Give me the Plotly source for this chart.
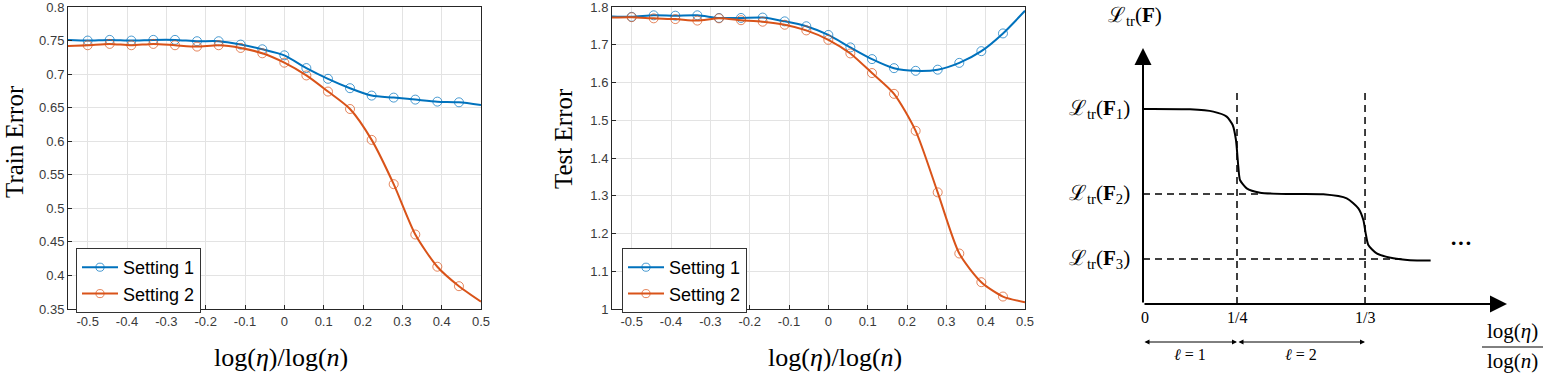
import plotly.graph_objects as go

# ---------------- data ----------------
x_vals = [-0.55, -0.5, -0.444, -0.389, -0.333, -0.278, -0.222, -0.167, -0.111, -0.056,
          0.0, 0.056, 0.111, 0.167, 0.222, 0.278, 0.333, 0.389, 0.444, 0.5]
has_marker = [False] + [True] * 18 + [False]

train_s1 = [0.751, 0.750, 0.751, 0.750, 0.751, 0.751, 0.749, 0.749, 0.744, 0.737,
            0.728, 0.709, 0.693, 0.679, 0.668, 0.665, 0.662, 0.659, 0.658, 0.654]
train_s2 = [0.742, 0.743, 0.745, 0.743, 0.745, 0.743, 0.741, 0.743, 0.739, 0.731,
            0.717, 0.698, 0.674, 0.648, 0.602, 0.536, 0.461, 0.413, 0.384, 0.361]
test_s1 = [1.775, 1.774, 1.778, 1.777, 1.778, 1.771, 1.771, 1.772, 1.762, 1.749,
           1.726, 1.693, 1.662, 1.638, 1.631, 1.634, 1.652, 1.683, 1.730, 1.790]
test_s2 = [1.772, 1.773, 1.770, 1.768, 1.764, 1.770, 1.765, 1.761, 1.753, 1.738,
           1.713, 1.677, 1.625, 1.570, 1.472, 1.309, 1.147, 1.071, 1.033, 1.018]

x_tick_vals = [-0.5, -0.4, -0.3, -0.2, -0.1, 0.0, 0.1, 0.2, 0.3, 0.4, 0.5]
x_tick_text = ["-0.5", "-0.4", "-0.3", "-0.2", "-0.1", "0", "0.1", "0.2", "0.3", "0.4", "0.5"]
train_tick_vals = [0.35, 0.4, 0.45, 0.5, 0.55, 0.6, 0.65, 0.7, 0.75, 0.8]
train_tick_text = ["0.35", "0.4", "0.45", "0.5", "0.55", "0.6", "0.65", "0.7", "0.75", "0.8"]
test_tick_vals = [1.0, 1.1, 1.2, 1.3, 1.4, 1.5, 1.6, 1.7, 1.8]
test_tick_text = ["1", "1.1", "1.2", "1.3", "1.4", "1.5", "1.6", "1.7", "1.8"]
series_names = ["Setting 1", "Setting 2"]

# schematic (right panel), in schematic units
diag_curve_x = [0.0, 0.50, 0.748, 0.890, 0.954, 0.989, 1.014, 1.032, 1.103, 1.245, 1.564,
                1.918, 2.167, 2.291, 2.344, 2.369, 2.397, 2.486, 2.663, 2.840, 3.060]
diag_curve_y = [3.90, 3.893, 3.847, 3.747, 3.58, 3.28, 2.747, 2.48, 2.313, 2.227, 2.20,
                2.193, 2.113, 1.913, 1.68, 1.413, 1.18, 1.013, 0.913, 0.875, 0.87]
diag_levels = [3.9, 2.2, 0.9]
diag_level_labels = ["ℒ<sub>tr</sub>(<b>F</b><sub>1</sub>)",
                     "ℒ<sub>tr</sub>(<b>F</b><sub>2</sub>)",
                     "ℒ<sub>tr</sub>(<b>F</b><sub>3</sub>)"]
diag_bounds = [0.0, 1.0, 2.362]
diag_bound_labels = ["0", "1/4", "1/3"]
diag_l_labels = ["<i>ℓ</i> = 1", "<i>ℓ</i> = 2"]

# ---------------- layout helpers ----------------
W, H = 1547, 377
BLUE = "#0072BD"
ORANGE = "#D95319"
SERIF = "Liberation Serif, DejaVu Serif, serif"
SANS = "Liberation Sans, Arial, Helvetica, sans-serif"


def px_x(p):
    return p / W


def px_y(p):
    return 1 - p / H


# diagram coordinate system: origin pixel and unit sizes
D_X0, D_Y0, D_UX, D_UY = 1143, 304, 94.0, 50.0


def dx(p):
    return (p - D_X0) / D_UX


def dy(p):
    return (D_Y0 - p) / D_UY


fig = go.Figure()

msizes = [9 if m else 0 for m in has_marker]


def add_series(xa, ya, yvals, color, name, legend):
    fig.add_trace(go.Scatter(
        x=x_vals, y=yvals, mode="lines+markers", name=name,
        xaxis=xa, yaxis=ya, legend=legend,
        line=dict(color=color, width=2, shape="spline", smoothing=0.7),
        marker=dict(symbol="circle-open", size=msizes, color=color,
                    line=dict(width=1, color=color)),
        hoverinfo="skip",
    ))


add_series("x", "y", train_s1, BLUE, series_names[0], "legend")
add_series("x", "y", train_s2, ORANGE, series_names[1], "legend")
add_series("x2", "y2", test_s1, BLUE, series_names[0], "legend2")
add_series("x2", "y2", test_s2, ORANGE, series_names[1], "legend2")

# schematic curve
fig.add_trace(go.Scatter(x=diag_curve_x, y=diag_curve_y, mode="lines", xaxis="x3", yaxis="y3",
                         line=dict(color="black", width=2, shape="spline", smoothing=0.6),
                         showlegend=False, hoverinfo="skip"))

axis_common = dict(showline=True, mirror=True, linecolor="#262626", linewidth=1,
                   ticks="inside", ticklen=4, tickcolor="#262626",
                   showgrid=True, gridcolor="#e3e3e3", gridwidth=1, zeroline=False,
                   automargin=False, ticklabeloverflow="allow",
                   tickfont=dict(family=SANS, size=13, color="#3a3a3a"))

plot_top, plot_bot = 7, 309
eps = 1e-6
layout = dict(
    width=W, height=H, margin=dict(l=0, r=0, t=0, b=0, autoexpand=False),
    paper_bgcolor="white", plot_bgcolor="white",
    xaxis=dict(domain=[px_x(68), px_x(481)], range=[-0.55, 0.5 + eps], anchor="y",
               tickvals=x_tick_vals, ticktext=x_tick_text, **axis_common),
    yaxis=dict(domain=[px_y(plot_bot), px_y(plot_top)], range=[0.35 - eps, 0.8 + eps], anchor="x",
               tickvals=train_tick_vals, ticktext=train_tick_text, **axis_common),
    xaxis2=dict(domain=[px_x(612), px_x(1025)], range=[-0.55, 0.5 + eps], anchor="y2",
                tickvals=x_tick_vals, ticktext=x_tick_text, **axis_common),
    yaxis2=dict(domain=[px_y(plot_bot), px_y(plot_top)], range=[1.0 - eps, 1.8 + eps], anchor="x2",
                tickvals=test_tick_vals, ticktext=test_tick_text, **axis_common),
    xaxis3=dict(domain=[px_x(1040), 1.0], range=[dx(1040), dx(W)], anchor="y3", visible=False,
                automargin=False),
    yaxis3=dict(domain=[0, 1], range=[dy(H), dy(0)], anchor="x3", visible=False,
                automargin=False),
)

legend_common = dict(bgcolor="white", bordercolor="#333333", borderwidth=1,
                     font=dict(family=SANS, size=18, color="black"),
                     itemwidth=36, tracegroupgap=0, xanchor="left", yanchor="top",
                     itemsizing="trace")
layout["legend"] = dict(x=px_x(76), y=px_y(248), **legend_common)
layout["legend2"] = dict(x=px_x(622), y=px_y(248), **legend_common)
fig.update_layout(**layout)

ann = []


def text_ann(text, x, y, xref, yref, size, xanchor="center", yanchor="middle", **kw):
    return dict(text=text, x=x, y=y, xref=xref, yref=yref, showarrow=False,
                xanchor=xanchor, yanchor=yanchor,
                font=dict(family=SERIF, size=size, color="black"), **kw)


# axis titles
xtitle = "log(<i>η</i>)/log(<i>n</i>)"
ann.append(text_ann(xtitle, px_x(281), px_y(357), "paper", "paper", 26))
ann.append(text_ann(xtitle, px_x(835), px_y(357), "paper", "paper", 26))
ann.append(text_ann("Train Error", px_x(15), px_y(142), "paper", "paper", 25, textangle=-90))
ann.append(text_ann("Test Error", px_x(563), px_y(139), "paper", "paper", 25, textangle=-90))

# schematic: axes arrows
ann.append(dict(x=0, y=dy(48), ax=0, ay=0, xref="x3", yref="y3", axref="x3", ayref="y3",
                text="", showarrow=True, arrowhead=2, arrowsize=1.7, arrowwidth=2, arrowcolor="black"))
ann.append(dict(x=dx(1507), y=0, ax=0, ay=0, xref="x3", yref="y3", axref="x3", ayref="y3",
                text="", showarrow=True, arrowhead=2, arrowsize=1.7, arrowwidth=2, arrowcolor="black"))
# l-arrows and labels
for i in range(2):
    ann.append(dict(x=diag_bounds[i + 1], y=dy(342), ax=diag_bounds[i], ay=dy(342),
                    xref="x3", yref="y3", axref="x3", ayref="y3", text="", showarrow=True,
                    arrowhead=2, startarrowhead=2, arrowside="end+start", arrowsize=1,
                    startarrowsize=1, arrowwidth=1, arrowcolor="black"))
    ann.append(text_ann(diag_l_labels[i], (diag_bounds[i] + diag_bounds[i + 1]) / 2, dy(354),
                        "x3", "y3", 16))
# bound labels
for b, lab in zip(diag_bounds, diag_bound_labels):
    ann.append(text_ann(lab, b, dy(317), "x3", "y3", 16, xshift=2 if lab == "0" else 0))
# level labels
for lv, lab in zip(diag_levels, diag_level_labels):
    ann.append(text_ann(lab, 0, lv, "x3", "y3", 21, xanchor="right", xshift=-11))
# title
ann.append(text_ann("ℒ<sub>tr</sub>(<b>F</b>)", dx(1135), dy(16), "x3", "y3", 21))
# dots
ann.append(text_ann("<b>···</b>", dx(1461), dy(242), "x3", "y3", 22))
# fraction
ann.append(text_ann("log(<i>η</i>)", dx(1512), dy(331), "x3", "y3", 21))
ann.append(text_ann("log(<i>n</i>)", dx(1512), dy(361), "x3", "y3", 21))
fig.update_layout(annotations=ann)

shapes = []
DASH = "7px,5px"
# dashed verticals
for b in diag_bounds[1:]:
    shapes.append(dict(type="line", xref="x3", yref="y3", x0=b, x1=b, y0=0, y1=dy(92),
                       line=dict(color="black", width=1.5, dash=DASH)))
# dashed horizontals
h_ends = [None, 1.25, 2.75]
for lv, e in zip(diag_levels, h_ends):
    if e is None:
        continue
    shapes.append(dict(type="line", xref="x3", yref="y3", x0=0, x1=e, y0=lv, y1=lv,
                       line=dict(color="black", width=1.5, dash=DASH)))
# fraction bar
shapes.append(dict(type="line", xref="x3", yref="y3", x0=dx(1482), x1=dx(1543), y0=dy(347),
                   y1=dy(347), line=dict(color="black", width=1)))
fig.update_layout(shapes=shapes)

page_fix = ("document.body.style.margin='0';document.body.style.padding='0';"
            "document.documentElement.style.overflow='hidden';")
fig.write_html("out.html", post_script=page_fix, config={"displayModeBar": False})
